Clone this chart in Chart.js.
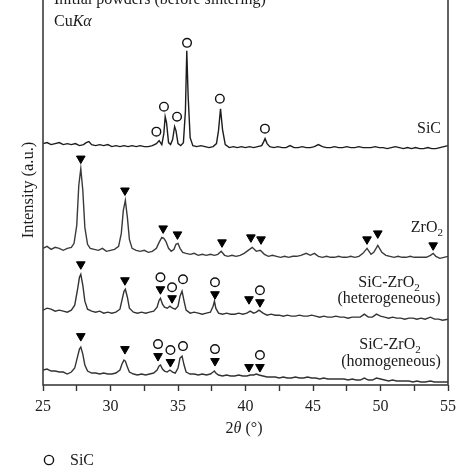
<!DOCTYPE html>
<html><head><meta charset="utf-8">
<script src="https://cdn.jsdelivr.net/npm/chart.js@4.4.1/dist/chart.umd.min.js"></script>
<style>
html,body{margin:0;padding:0;background:#fff;overflow:hidden;width:474px;height:474px}
#wrap{position:absolute;left:0;top:-20px;width:474px;height:494px}
</style></head><body>
<div id="wrap"><canvas id="c" width="474" height="494"></canvas></div>
<script>
// ---- data (2θ in degrees, intensity in a.u., traces stacked) ----
const sicAngle=[25,25.3,25.6,25.9,26.2,26.5,26.8,27.1,27.4,27.7,28.0,28.2,28.4,28.6,28.9,29.2,29.5,29.8,30.1,30.4,30.7,31.0,31.3,31.6,31.9,32.2,32.5,32.8,33.1,33.4,33.6,33.8,33.95,34.05,34.15,34.3,34.45,34.6,34.75,34.85,35.0,35.2,35.4,35.55,35.65,35.75,35.9,36.1,36.4,36.7,37.0,37.3,37.6,37.85,38.0,38.15,38.3,38.5,38.8,39.1,39.4,39.7,40.0,40.3,40.6,40.9,41.2,41.35,41.45,41.6,41.8,42.1,42.4,42.7,43.0,43.3,43.6,43.9,44.2,44.5,44.8,45.1,45.4,45.7,46.0,46.3,46.6,46.9,47.2,47.5,47.8,48.1,48.4,48.7,49.0,49.3,49.6,49.9,50.2,50.5,50.8,51.1,51.4,51.7,52.0,52.3,52.6,52.9,53.2,53.5,53.8,54.1,54.4,54.7,55];
const sicIntensity=[242,243,241,242,243,241,242,241,242,240,241,243,244,241,240,241,240,241,239,240,239,240,239,240,239,240,239,239,240,242,245,241,252,269,263,243,241,246,259,255,242,240,243,275,335,290,248,240,239,240,239,238,239,242,255,277,256,241,238,239,238,239,238,239,238,239,240,244,247,242,239,238,239,238,238,240,238,238,239,238,238,239,241,239,238,238,239,238,238,239,238,238,239,238,238,238,239,238,238,237,238,239,238,237,238,237,238,237,237,238,237,237,238,239,240];

const zro2Angle=[25,25.3,25.6,25.9,26.2,26.5,26.8,27.1,27.3,27.5,27.65,27.8,27.95,28.1,28.3,28.5,28.8,29.1,29.4,29.7,30.0,30.3,30.6,30.8,30.95,31.1,31.25,31.4,31.6,31.9,32.2,32.5,32.8,33.1,33.4,33.6,33.8,33.95,34.1,34.3,34.5,34.7,34.85,35.0,35.15,35.35,35.6,35.9,36.2,36.5,36.8,37.1,37.4,37.7,37.95,38.2,38.45,38.7,39.0,39.3,39.6,39.9,40.2,40.5,40.8,41.1,41.4,41.7,42.0,42.3,42.6,42.9,43.2,43.5,43.8,44.1,44.5,44.8,45.1,45.4,45.7,46.0,46.3,46.6,46.9,47.2,47.5,47.8,48.1,48.4,48.7,49.0,49.3,49.5,49.8,50.1,50.4,50.7,51.0,51.3,51.6,51.9,52.2,52.5,52.8,53.1,53.4,53.7,53.9,54.1,54.4,54.7,55];
const zro2Intensity=[137,139,136,138,137,135,137,138,142,160,200,217,195,158,141,137,136,135,137,134,135,136,139,152,175,185,168,146,137,135,134,135,133,134,137,143,148,147,144,137,134,136,141,142,137,133,132,131,132,130,131,130,131,130,131,134,130,129,130,129,130,132,135,138,134,135,131,129,130,129,128,129,128,129,129,130,132,130,132,129,128,129,128,128,129,128,128,129,128,129,132,137,131,133,140,133,130,129,128,129,128,128,129,128,128,128,128,130,132,129,127,128,129];

const compositeAngle=[25,25.3,25.6,25.9,26.2,26.5,26.8,27.1,27.35,27.55,27.7,27.8,27.95,28.1,28.3,28.6,28.9,29.2,29.5,29.8,30.1,30.4,30.7,30.85,31.0,31.1,31.25,31.4,31.7,32.0,32.3,32.6,32.9,33.2,33.45,33.6,33.7,33.85,34.0,34.2,34.4,34.6,34.8,35.0,35.15,35.3,35.45,35.6,35.9,36.2,36.5,36.8,37.1,37.4,37.6,37.7,37.8,38.0,38.3,38.6,38.9,39.2,39.5,39.8,40.1,40.35,40.6,40.8,41.0,41.3,41.6,41.9,42.2,42.5,42.8,43.1,43.4,43.7,44.0,44.3,44.6,44.9,45.2,45.5,45.8,46.1,46.4,46.7,47.0,47.3,47.6,47.9,48.2,48.5,48.8,49.1,49.4,49.7,50.0,50.3,50.6,50.9,51.2,51.5,51.8,52.1,52.4,52.7,53.0,53.3,53.7,54.0,54.3,54.6,55];
const heteroIntensity=[75,77,76,74,75,74,73,75,80,95,108,111,100,84,76,74,73,74,72,73,72,73,76,85,94,96,88,77,73,72,73,72,73,74,78,85,87,81,78,77,79,77,76,79,89,94,84,75,72,73,72,71,72,73,79,84,77,72,71,72,71,71,72,71,72,74,72,73,75,72,70,71,70,70,69,70,69,69,70,69,69,70,69,68,69,68,68,69,68,68,67,68,68,68,71,68,68,71,69,68,67,68,67,67,66,67,67,66,67,66,68,66,66,65,66];
const homoIntensity=[15,16,14,14,13,13,11,13,17,28,36,38,31,20,14,12,12,11,12,11,11,12,15,21,25,24,18,13,11,10,11,10,11,12,15,19,20,16,14,13,15,13,12,17,27,29,20,13,11,11,10,11,10,11,13,14,12,10,9,10,9,9,10,9,9,10,10,11,10,9,8,8,8,7,8,7,7,8,7,7,8,7,7,6,7,6,6,6,6,6,5,6,5,5,7,5,5,7,6,5,4,5,4,4,4,4,3,4,3,3,4,3,3,3,3];

// peak markers: ○ SiC, ▼ ZrO2
const sicTraceSiCPeaks=[33.4,33.96,34.93,35.67,38.1,41.44];
const sicTraceSiCMarks=[254,279,269,343,287,257];
const zro2TraceZrPeaks=[27.8,31.07,33.9,34.96,38.26,40.4,41.15,49.0,49.8,53.9];
const zro2TraceZrMarks=[227,195,157,151,143,148,146,146,152,140];
const heteroZrPeaks=[27.8,31.07,33.7,34.56,37.74,40.26,41.07];
const heteroZrMarks=[121,105,96,87,91,86,83];
const heteroSiCPeaks=[33.7,34.56,35.37,37.74,41.07];
const heteroSiCMarks=[108,98,106,103,95];
const homoZrPeaks=[27.8,31.07,33.52,34.44,37.74,40.26,41.07];
const homoZrMarks=[49,36,29,23,24,18,18];
const homoSiCPeaks=[33.52,34.44,35.37,37.74,41.07];
const homoSiCMarks=[41,35,39,36,30];

const xTicks=[25,30,35,40,45,50,55];

// ---- chart ----
const pts=(xs,ys)=>xs.map((x,i)=>({x:x,y:ys[i]}));
const SERIF='"Liberation Serif","DejaVu Serif",serif';
function trace(xs,ys,color){return {data:pts(xs,ys),showLine:true,pointRadius:0,borderColor:color,borderWidth:1.4,tension:0,order:2};}
function circles(xs,ys){return {data:pts(xs,ys),showLine:false,pointStyle:'circle',pointRadius:4.3,backgroundColor:'#fff',borderColor:'#111',borderWidth:1.4,order:1};}
function tris(xs,ys){return {data:pts(xs,ys),showLine:false,pointStyle:'triangle',rotation:180,pointRadius:5,backgroundColor:'#000',borderColor:'#000',borderWidth:1,order:1};}

function drawRuns(ctx,runs,x,y,align,size){
  const fontOf=s=>s==='i'?`italic ${size}px ${SERIF}`:s==='sub'?`${Math.round(size*0.68)}px ${SERIF}`:`${size}px ${SERIF}`;
  let w=0;const ws=runs.map(r=>{ctx.font=fontOf(r[1]);const m=ctx.measureText(r[0]).width;w+=m;return m;});
  let cx=align==='right'?x-w:align==='center'?x-w/2:x;
  ctx.textAlign='left';ctx.textBaseline='alphabetic';
  runs.forEach((r,i)=>{ctx.font=fontOf(r[1]);ctx.fillText(r[0],cx,r[1]==='sub'?y+size*0.22:y);cx+=ws[i];});
}

const deco={id:'deco',afterDraw(chart){
  const c=chart.ctx,a=chart.chartArea;const O=20;
  c.save();
  c.strokeStyle='#3c3c3c';c.lineWidth=1.6;
  c.strokeRect(a.left,a.top,a.right-a.left,a.bottom-a.top);
  c.fillStyle='#1a1a1a';
  drawRuns(c,[['Initial powders (before sintering)','n']],54,O+4,'left',16);
  drawRuns(c,[['Cu','n'],['K','i'],['α','i']],54,O+26,'left',16);
  drawRuns(c,[['SiC','n']],441,O+133,'right',16);
  drawRuns(c,[['ZrO','n'],['2','sub']],443,O+232,'right',16);
  drawRuns(c,[['SiC-ZrO','n'],['2','sub']],389,O+287,'center',16);
  drawRuns(c,[['(heterogeneous)','n']],389,O+303,'center',16);
  drawRuns(c,[['SiC-ZrO','n'],['2','sub']],390,O+349,'center',16);
  drawRuns(c,[['(homogeneous)','n']],391,O+366,'center',16);
  drawRuns(c,[['2','n'],['θ','i'],[' (°)','n']],244,O+433,'center',16);
  c.save();c.translate(33,O+190);c.rotate(-Math.PI/2);
  drawRuns(c,[['Intensity (a.u.)','n']],0,0,'center',16.5);c.restore();
  c.beginPath();c.arc(49,O+460,4.6,0,Math.PI*2);c.fillStyle='#fff';c.fill();c.lineWidth=1.4;c.strokeStyle='#111';c.stroke();
  c.fillStyle='#1a1a1a';
  drawRuns(c,[['SiC','n']],70,O+465,'left',16);
  c.restore();
}};

new Chart(document.getElementById('c'),{
  type:'scatter',
  data:{datasets:[
    trace(sicAngle,sicIntensity,'#1c1c1c'),
    trace(zro2Angle,zro2Intensity,'#3a3a3a'),
    trace(compositeAngle,heteroIntensity,'#333'),
    trace(compositeAngle,homoIntensity,'#333'),
    circles(sicTraceSiCPeaks,sicTraceSiCMarks),
    tris(zro2TraceZrPeaks,zro2TraceZrMarks),
    tris(heteroZrPeaks,heteroZrMarks),
    circles(heteroSiCPeaks,heteroSiCMarks),
    tris(homoZrPeaks,homoZrMarks),
    circles(homoSiCPeaks,homoSiCMarks)
  ]},
  options:{
    responsive:false,animation:false,devicePixelRatio:1,
    layout:{padding:{left:43,right:26,top:5,bottom:59}},
    plugins:{legend:{display:false},tooltip:{enabled:false}},
    scales:{
      x:{type:'linear',min:25,max:55,
        afterBuildTicks:s=>{const t=[];for(let v=25;v<=55.01;v+=2.5)t.push({value:v});s.ticks=t;},
        ticks:{callback:v=>xTicks.includes(v)?String(v):'',font:{family:SERIF,size:16},color:'#222',padding:6,maxRotation:0,autoSkip:false},
        grid:{display:true,drawOnChartArea:false,drawTicks:true,tickLength:6,tickColor:'#333',tickWidth:1.4},
        border:{display:false},
        afterFit:s=>{s.height=30;}
      },
      y:{display:false,min:0,max:400}
    }
  },
  plugins:[deco]
});
</script>
</body></html>
